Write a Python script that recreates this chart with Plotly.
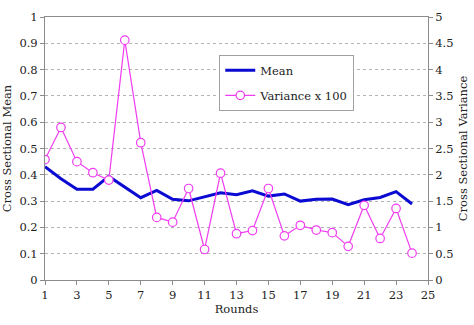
import plotly.graph_objects as go

rounds = list(range(1, 25))
mean_vals = [0.431, 0.385, 0.345, 0.345, 0.394, 0.355, 0.313, 0.341, 0.307, 0.301,
             0.317, 0.332, 0.324, 0.339, 0.319, 0.327, 0.300, 0.307, 0.308, 0.286,
             0.305, 0.314, 0.336, 0.289]
variance_x100 = [2.29, 2.90, 2.25, 2.04, 1.90, 4.56, 2.61, 1.19, 1.10, 1.74,
                 0.58, 2.03, 0.88, 0.94, 1.74, 0.84, 1.04, 0.95, 0.90, 0.64,
                 1.42, 0.79, 1.36, 0.51]
x_ticks = list(range(1, 26, 2))
left_ticks = [i / 10 for i in range(11)]
right_ticks = [i / 2 for i in range(11)]
right_labels = ["0", "0.5", "1", "1.5", "2", "2.5", "3", "3.5", "4", "4.5", "5"]

FONT = "DejaVu Serif"
AXIS_COLOR = "#8c8c8c"
GRID_COLOR = "#b4b4b4"

fig = go.Figure()
fig.add_trace(go.Scatter(
    x=rounds, y=mean_vals, name="Mean", mode="lines",
    line=dict(color="#0a0ad2", width=3), legendgroup="a",
))
fig.add_trace(go.Scatter(
    x=rounds, y=variance_x100, name="Variance x 100", mode="lines+markers",
    line=dict(color="#f03cf0", width=1.2),
    marker=dict(symbol="circle", size=8.5, color="white",
                line=dict(color="#f03cf0", width=1.2)),
    yaxis="y2", legendgroup="b",
))

fig.update_layout(
    width=474, height=325,
    margin=dict(l=45, r=46, t=17, b=45),
    paper_bgcolor="white", plot_bgcolor="white",
    font=dict(family=FONT, size=11.5, color="#222"),
    showlegend=True,
    legend=dict(
        x=0.455, y=0.856, xanchor="left", yanchor="top",
        bordercolor="#a0a0a0", borderwidth=1, bgcolor="white",
        tracegroupgap=6, font=dict(family=FONT, size=11.5),
        itemwidth=30,
    ),
    xaxis=dict(
        range=[1, 25], tickvals=x_ticks, showgrid=False, zeroline=False,
        showline=True, linecolor=AXIS_COLOR, linewidth=1, mirror=True,
        ticks="outside", ticklen=4, tickcolor=AXIS_COLOR, automargin=False,
        title=dict(text="Rounds", standoff=4, font=dict(family=FONT, size=11.5)),
    ),
    yaxis=dict(
        range=[0, 1], tickvals=left_ticks, showgrid=True, gridcolor=GRID_COLOR,
        griddash="dot", gridwidth=1, zeroline=False,
        showline=True, linecolor=AXIS_COLOR, linewidth=1,
        ticks="outside", ticklen=4, tickcolor=AXIS_COLOR, automargin=False,
        title=dict(text="Cross Sectional Mean", standoff=6, font=dict(family=FONT, size=11.5)),
    ),
    yaxis2=dict(
        range=[0, 5], tickvals=right_ticks, ticktext=right_labels,
        overlaying="y", side="right", showgrid=False, zeroline=False,
        showline=True, linecolor=AXIS_COLOR, linewidth=1,
        ticks="outside", ticklen=4, tickcolor=AXIS_COLOR, automargin=False,
        title=dict(text="Cross Sectional Variance", standoff=6, font=dict(family=FONT, size=11.5)),
    ),
)

fig.write_html("out.html")
